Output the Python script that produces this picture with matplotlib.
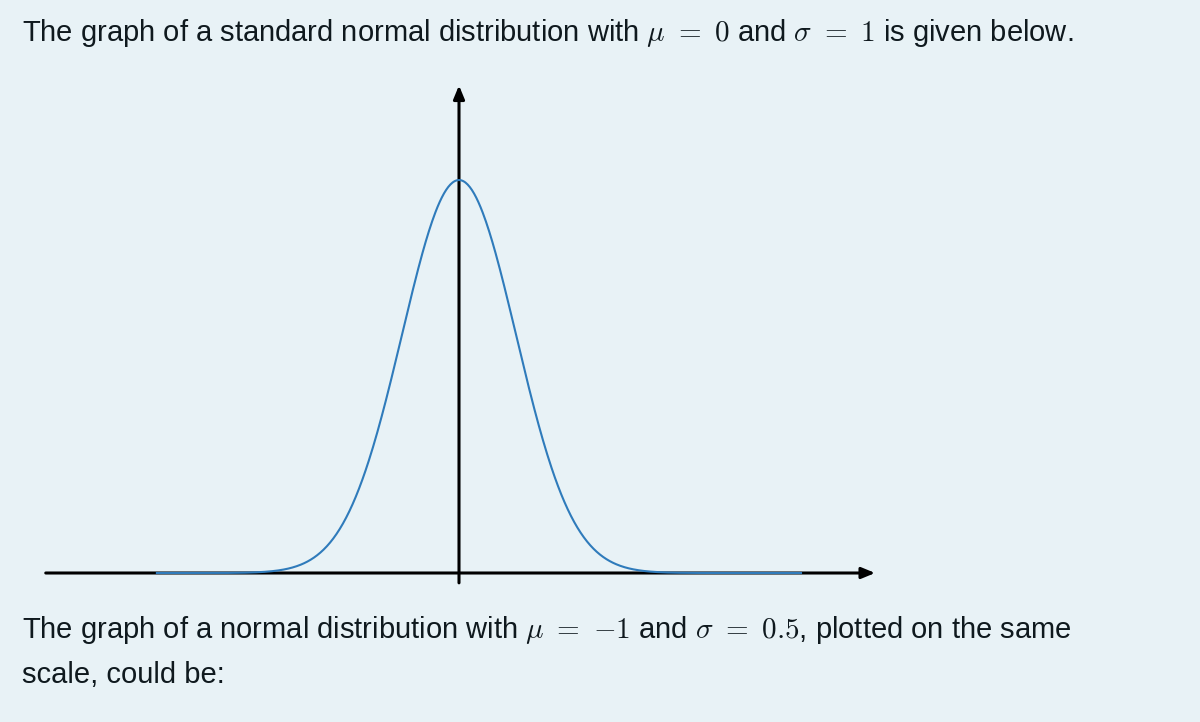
import numpy as np
import matplotlib
matplotlib.use('Agg')
import matplotlib.pyplot as plt

plt.rcParams['font.family'] = ['Liberation Sans', 'DejaVu Sans']
plt.rcParams['mathtext.fontset'] = 'cm'

# distribution shown
mu = 0.0
sigma = 1.0
x_start, x_end = -5.3, 6.0          # extent of drawn curve (in sigma units)

# axes extents (data units)
x_axis_left, x_axis_tip = -7.25, 7.3
y_axis_bottom, y_axis_tip = -0.010, 0.495

title = r'The graph of a standard normal distribution with $\mu\ =\ 0$ and $\sigma\ =\ 1$ is given below.'
question_1 = r'The graph of a normal distribution with $\mu\ =\ {-1}$ and $\sigma\ =\ 0.5$, plotted on the same'
question_2 = 'scale, could be:'

bg = '#e8f2f6'
text_col = '#0f191e'
curve_col = '#2f7bbb'

fig = plt.figure(figsize=(12, 7.22), dpi=100, facecolor=bg)
ax = fig.add_axes([0, 0, 1, 1])
ax.set_facecolor(bg)
ax.set_xlim(-459 / 57, (1200 - 459) / 57)
ax.set_ylim((573 - 722) / 985, 573 / 985)
ax.axis('off')

xs = np.linspace(x_start, x_end, 600)
pdf = np.exp(-0.5 * ((xs - mu) / sigma) ** 2) / (sigma * np.sqrt(2 * np.pi))

# axes with arrow heads
ax.annotate('', xy=(x_axis_tip, 0), xytext=(x_axis_left, 0),
            arrowprops=dict(arrowstyle='-|>,head_length=0.8,head_width=0.33',
                            color='black', lw=2.2, shrinkA=0, shrinkB=0))
ax.annotate('', xy=(0, y_axis_tip), xytext=(0, y_axis_bottom),
            arrowprops=dict(arrowstyle='-|>,head_length=0.8,head_width=0.33',
                            color='black', lw=2.2, shrinkA=0, shrinkB=0))

ax.plot(xs, pdf, color=curve_col, lw=1.5, zorder=3)

fig.text(22 / 1200, 1 - 33 / 722, title, fontsize=21, color=text_col,
         ha='left', va='center')
fig.text(22 / 1200, 1 - 630 / 722, question_1, fontsize=21, color=text_col,
         ha='left', va='center')
fig.text(22 / 1200, 1 - 675 / 722, question_2, fontsize=21, color=text_col,
         ha='left', va='center')

fig.savefig('out.png', dpi=100, facecolor=bg)
